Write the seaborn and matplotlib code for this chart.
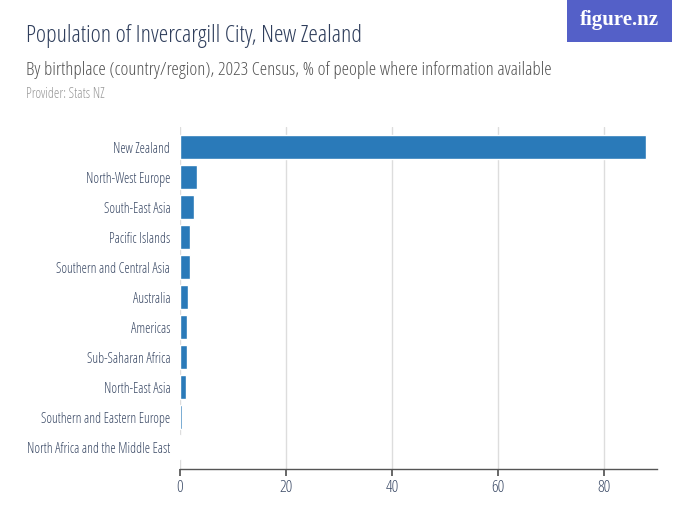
import matplotlib
matplotlib.use("Agg")
import matplotlib.pyplot as plt
import seaborn as sns
import pandas as pd
from matplotlib.patches import Rectangle

categories = ["New Zealand", "North-West Europe", "South-East Asia", "Pacific Islands",
              "Southern and Central Asia", "Australia", "Americas", "Sub-Saharan Africa",
              "North-East Asia", "Southern and Eastern Europe", "North Africa and the Middle East"]
values = [88.0, 3.25, 2.65, 1.85, 1.85, 1.6, 1.3, 1.3, 1.2, 0.3, 0.1]
x_ticks = [0, 20, 40, 60, 80]

sns.set_theme(style="white")
FONT = ["Open Sans", "DejaVu Sans"]
plt.rcParams["font.family"] = FONT
plt.rcParams["font.stretch"] = "condensed"

df = pd.DataFrame({"category": categories, "value": values})

fig = plt.figure(figsize=(7, 5.25), dpi=100)
ax = fig.add_axes([180/700, 1-469/525, (657-180)/700, (469-127)/525])

sns.barplot(data=df, x="value", y="category", order=categories, color="#2a7ab9",
            saturation=1, width=0.8, ax=ax)

ax.set_xlim(0, 90)
ax.set_ylim(10.73, -0.67)
ax.set_xticks(x_ticks)
ax.set_xticklabels([str(t) for t in x_ticks])
ax.set_xlabel("")
ax.set_ylabel("")
ax.grid(axis="x", color="#dddddd", linewidth=1)
ax.set_axisbelow(True)
for s in ["top", "right", "left"]:
    ax.spines[s].set_visible(False)
ax.spines["bottom"].set_color("#555555")
ax.spines["bottom"].set_linewidth(1)
ax.tick_params(axis="x", length=5, color="#555555", colors="#3b4a66", labelsize=12, pad=3, bottom=True)
ax.tick_params(axis="y", length=0, colors="#3b4a66", labelsize=9.8, pad=7)

fig.text(26/700, 1-36/525, "Population of Invercargill City, New Zealand",
         fontsize=17.5, color="#2f3e5c", va="center", ha="left")
fig.text(26/700, 1-70/525, "By birthplace (country/region), 2023 Census, % of people where information available",
         fontsize=13.7, color="#555555", va="center", ha="left")
fig.text(26/700, 1-94/525, "Provider: Stats NZ",
         fontsize=10, color="#999999", va="center", ha="left")

fig.patches.append(Rectangle((567/700, 1-42/525), 105/700, 42/525, transform=fig.transFigure,
                             facecolor="#5460c8", edgecolor="none"))
fig.text(619/700, 1-20/525, "figure.nz", fontsize=15, color="white", va="center", ha="center",
         family=["Liberation Serif", "DejaVu Serif"], fontstretch="normal", fontweight="bold")

fig.savefig("out.png", dpi=100)
